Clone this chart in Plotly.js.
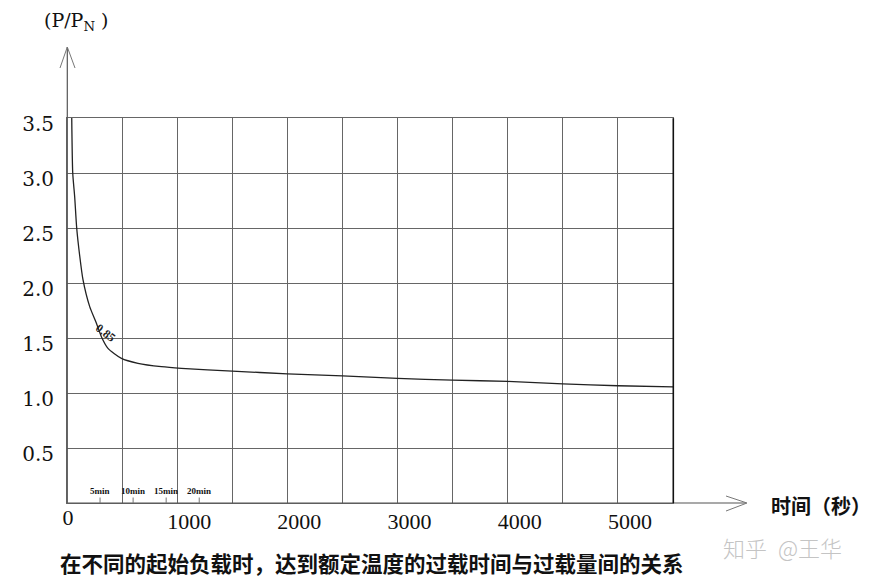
<!DOCTYPE html>
<html>
<head>
<meta charset="utf-8">
<script src="https://cdn.plot.ly/plotly-3.0.1.min.js"></script>
<style>html,body{margin:0;padding:0;background:#fff;}#chart{width:873px;height:583px;}</style>
</head>
<body>
<div id="chart"></div>
<script>
// ---- data ----
const timeSec = [43, 52, 70, 88, 115, 145, 206, 267, 312, 372, 494, 644, 857, 1038, 1500, 2000, 2500, 3000, 3500, 4000, 4500, 5000, 5500];
const loadRatio = [3.5, 3.0, 2.78, 2.5, 2.25, 2.03, 1.785, 1.634, 1.512, 1.406, 1.315, 1.27, 1.239, 1.224, 1.199, 1.174, 1.155, 1.133, 1.117, 1.105, 1.083, 1.066, 1.055];
const curveLabel = "0.85";
const curveLabelAt = [351, 1.545];
const xTickVals = [0, 1000, 2000, 3000, 4000, 5000];
const yTickVals = [0.5, 1.0, 1.5, 2.0, 2.5, 3.0, 3.5];
const minuteMarks = [300, 600, 900, 1200];
const minuteLabels = ["5min", "10min", "15min", "20min"];
const yTitle = "(P/P<sub>N</sub> )";
const xTitle = "时间（秒）";
const caption = "在不同的起始负载时，达到额定温度的过载时间与过载量间的关系";
const watermark = "知乎 @王华";

// ---- layout geometry ----
const W = 873, H = 583;
const M = {l: 67, r: 200, t: 118, b: 80};
const PW = W - M.l - M.r, PH = H - M.t - M.b;
const px = x => (x - M.l) / PW;
const py = y => (H - M.b - y) / PH;

const gridCol = '#666';
const axCol = '#555';

const trace = {
  x: timeSec, y: loadRatio, type: 'scatter', mode: 'lines',
  line: {color: '#222', width: 1.3, shape: 'spline', smoothing: 0.6},
  hoverinfo: 'skip', cliponaxis: false
};
// carrier trace for the overlay axis that holds the "0" label
const carrier = {x: [xTickVals[0]], y: [loadRatio[0]], xaxis: 'x2', type: 'scatter', mode: 'none', hoverinfo: 'skip'};

const annotations = [];
minuteMarks.forEach((m, i) => {
  annotations.push({
    x: m, y: 0, xref: 'x', yref: 'y', text: minuteLabels[i],
    showarrow: true, arrowhead: 0, arrowwidth: 1, arrowcolor: '#777',
    ax: 0, ay: -12, font: {family: 'Liberation Serif', size: 9, color: '#111', weight: 700}
  });
});
annotations.push({
  x: curveLabelAt[0], y: curveLabelAt[1], xref: 'x', yref: 'y', text: curveLabel,
  showarrow: false, textangle: 38, font: {family: 'Liberation Serif', size: 12, color: '#222', weight: 700}
});
const paperNote = (x, y, text, font) => ({
  x: px(x), y: py(y), xref: 'paper', yref: 'paper', xanchor: 'center', yanchor: 'middle',
  text: text, showarrow: false, font: font
});
annotations.push(paperNote(76, 21, yTitle, {family: 'DejaVu Serif', size: 19, color: '#111'}));
annotations.push(paperNote(821, 505, xTitle, {family: 'Noto Sans CJK SC', size: 20, color: '#111', weight: 700}));
annotations.push(paperNote(372, 562, caption, {family: 'Noto Sans CJK SC', size: 21.5, color: '#111', weight: 700}));
annotations.push(paperNote(782, 547, watermark.replace(' ', '\u2002'), {family: 'Noto Sans CJK SC', size: 22, color: '#c4c4c4', weight: 300}));

const line = (x0, y0, x1, y1, c, w) => ({
  type: 'line', xref: 'paper', yref: 'paper', x0: px(x0), y0: py(y0), x1: px(x1), y1: py(y1),
  line: {color: c, width: w}
});
const shapes = [
  line(67.3, 503, 745, 503, axCol, 1.2),
  line(67.3, 503, 67.3, 47, axCol, 1.2),
  line(67.3, 47, 60, 68, '#777', 1),
  line(67.3, 47, 75, 68, '#777', 1),
  line(747, 503, 726, 496, '#777', 1),
  line(747, 503, 726, 511, '#777', 1),
  line(673.3, 118.3, 673.3, 503, '#111', 1.6)
];

const xFont = {family: 'Liberation Serif', size: 22, color: '#111'};
const layout = {
  width: W, height: H, margin: M, showlegend: false,
  paper_bgcolor: '#fff', plot_bgcolor: '#fff',
  xaxis: {
    range: [0, 5500], tickvals: xTickVals.slice(1), ticks: '', showgrid: true,
    gridcolor: gridCol, gridwidth: 1, zeroline: false,
    showline: true, mirror: true, linecolor: gridCol, linewidth: 1,
    minor: {dtick: 500, tick0: 0, showgrid: true, gridcolor: gridCol, gridwidth: 1},
    ticklabelshift: 12, ticklabelstandoff: -1, tickfont: xFont
  },
  xaxis2: {
    overlaying: 'x', side: 'bottom', range: [0, 5500], tickvals: xTickVals.slice(0, 1),
    ticks: '', showgrid: false, zeroline: false, showline: false,
    ticklabelshift: 1, ticklabelstandoff: -1, tickfont: xFont
  },
  yaxis: {
    range: [0, 3.5], tickvals: yTickVals, tickformat: '.1f', ticks: '', showgrid: true,
    gridcolor: gridCol, gridwidth: 1, zeroline: false,
    showline: true, mirror: true, linecolor: gridCol, linewidth: 1,
    ticklabelshift: 6, ticklabelstandoff: 8,
    tickfont: {family: 'DejaVu Serif', size: 20, color: '#111'}
  },
  annotations: annotations, shapes: shapes
};

Plotly.newPlot('chart', [trace, carrier], layout, {staticPlot: true, displayModeBar: false});
</script>
</body>
</html>
